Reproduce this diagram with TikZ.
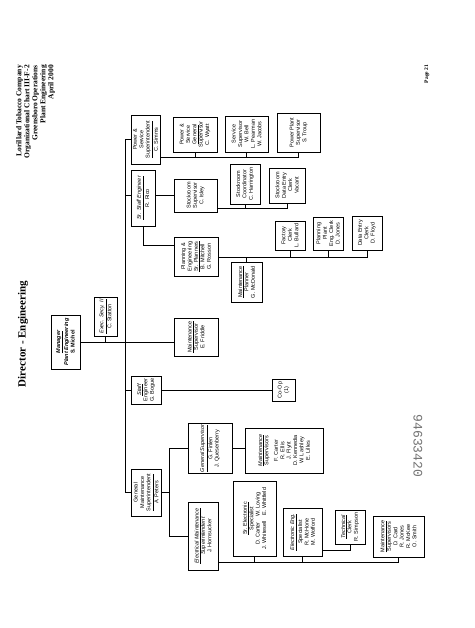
\documentclass[tikz,border=0pt]{standalone}
\usepackage{fontspec}
\setmainfont{Liberation Serif}
\setsansfont{Liberation Sans}
\setmonofont{Liberation Mono}
\usetikzlibrary{calc}

\tikzset{
  box/.style={draw, line width=0.7pt, rotate=90, align=center, inner sep=1pt,
    font=\sffamily\fontsize{5.5}{6.4}\selectfont},
  bsize/.style 2 args={minimum height=#1pt, minimum width=#2pt},
  wire/.style={line width=0.7pt},
}

\begin{document}
\begin{tikzpicture}[x=1pt, y=-1pt]
        %PAGE
        \fill[white] (0,0) rectangle (474,628);
        \useasboundingbox (0,0) rectangle (474,628);
        %HEADER
        \node[rotate=90, anchor=north east, align=right, inner sep=0pt,
          font=\bfseries\fontsize{7.5}{8}\selectfont] (hdr) at (16,65)
          {Lorillard Tobacco Company\\Organizational Chart III-F-2\\Greensboro Operations\\Plant Engineering\\April 2000};
        \node[rotate=90, font=\bfseries\fontsize{11}{13}\selectfont] (title) at (23,334) {Director - Engineering};
        \node[rotate=90, font=\bfseries\fontsize{5.5}{6}\selectfont] (pagenr) at (427,74) {Page 21};
        \node[rotate=-90, font=\ttfamily\fontsize{13}{14}\selectfont, text=black!55] (stamp) at (418,446) {94633420};
        %KOORDINAT
        \coordinate (tr) at (125,0);
        \coordinate (kGM) at (169,0);
        \coordinate (bPS) at (0,157);
        \coordinate (bST) at (0,208);
        \coordinate (kPL) at (0,245);
        \coordinate (bPL) at (0,257);
        \coordinate (kTC) at (0,550);
        \coordinate (bEL) at (0,562);
        %MANAGER
        \node[box, bsize={29}{54}] (mgr) at (65.5,342) {\textbf{\textit{\underline{Manager}}}\\\textbf{\textit{Plant Engineering}}\\\textbf{S. Michel}};
        \node[box, bsize={23}{39}] (exec) at (105.5,316.5) {\textit{\underline{Exec. Secy. II}}\\C. Statton};
        %POWER & SERVICE
        \node[box, bsize={29}{49}] (pss) at (145.5,139.5) {Power \&\\Service\\\underline{Superintendent}\\C. Simms};
        \node[box, bsize={44}{35}] (wyatt) at (195,134.5) {Power \&\\Service\\\underline{General}\\Supervisor\\C. Wyatt};
        \node[box, bsize={43}{36}] (bell) at (246.5,134) {Service\\Supervisor\\W. Bell\\L. Pearman\\W. Jacobs};
        \node[box, bsize={43}{39}] (troup) at (298.5,132.5) {Power Plant\\Supervisor\\S. Troup};
        %STAFF ENGINEER
        \node[box, bsize={24}{56}] (rico) at (143,198) {\textit{\underline{Sr. Staff Engineer}}\\R. Rico};
        \node[box, bsize={43}{33}] (isley) at (195.5,195.5) {Stockroom\\Supervisor\\C. Isley};
        \node[box, bsize={30}{40}] (harr) at (245,184) {Stockroom\\Coordinator\\C. Harrington};
        \node[box, bsize={36}{35}] (vacant) at (287,185.5) {Stockroom\\Data Entry\\Clerk\\Vacant};
        %PLANNING
        \node[box, bsize={44}{39}] (plan) at (196,256.5) {Planning \&\\Engineering\\\underline{Sr. Planners}\\B. Mitchell\\G. Rosson};
        \node[box, bsize={31}{40}] (mcd) at (246.5,282) {\underline{Maintenance}\\Planner\\G. McDonald};
        \node[box, bsize={30}{29}] (bullard) at (290,235.5) {Factory\\Clerk\\L. Bullard};
        \node[box, bsize={30}{33}] (jones) at (328,233.5) {Planning\\Plant\\Eng. Clerk\\D. Jones};
        \node[box, bsize={30}{34}] (floyd) at (367,233) {Data Entry\\Clerk\\D. Floyd};
        %MAINTENANCE
        \node[box, bsize={44}{38}] (friddle) at (196,337) {\underline{Maintenance}\\Supervisor\\E. Friddle};
        \node[box, bsize={30}{28}] (bogue) at (146,390) {\textit{\underline{Staff}}\\Engineer\\G. Bogue};
        \node[box, bsize={23}{22}] (coop) at (283.5,390) {Co-Op\\(1)};
        %GENERAL MAINTENANCE
        \node[box, bsize={30}{47}] (peters) at (146,492.5) {General\\Maintenance\\\underline{Superintendent}\\A. Peters};
        \node[box, bsize={44}{49}] (finlen) at (210,448.5) {\textit{\underline{General Supervisor}}\\G. Finlen\\J. Quesenberry};
        \node[box, bsize={78}{45}] (lilles) at (284,450.5) {\textit{\underline{Maintenance}}\\Supervisors\\[3pt]F. Carter\\R. Ellis\\J. Flynt\\D. Kennedia\\W. Lashley\\E. Lilles};
        \node[box, bsize={30}{68}] (horn) at (203,536) {\textit{\underline{Electrical Maintenance}}\\\textit{Superintendent}\\J. Hornsucker};
        \node[box, bsize={43}{75}] (carter) at (254.5,518.5) {\underline{Sr. Electronic}\\Specialist\\D. Carter\quad W. Loving\\J. Whitesell\quad E. Whitfield};
        \node[box, bsize={39}{48}] (mchone) at (302.5,532) {\textit{\underline{Electronic Eng.}}\\Specialist\\R. McHone\\M. Wofford};
        \node[box, bsize={30}{34}] (simpson) at (350,527) {\textit{\underline{Technical}}\\Clerk\\R. Simpson};
        \node[box, bsize={51}{41}] (card) at (398.5,536.5) {\underline{Maintenance}\\Supervisors\\D. Card\\R. Jones\\R. McKee\\O. Smith};
        %GARIS
        \draw[wire] (pss.north) -- (pss.north -| tr) -- (peters.north -| tr) -- (peters.north);
        \draw[wire] (mgr.south) -- (friddle.north |- mgr.south);
        \draw[wire] (exec.west) -- (exec.west |- mgr.south);
        \draw[wire] (pss.south |- bPS) -- (troup.west |- bPS) -- (troup.west);
        \draw[wire] (wyatt.west) -- (wyatt.west |- bPS);
        \draw[wire] (bell.west) -- (bell.west |- bPS);
        \draw[wire] (isley.north -| tr) -- (rico.north |- isley.north);
        \draw[wire] (rico.south |- isley.north) -- (isley.north);
        \draw[wire] (isley.south |- bST) -- (vacant.west |- bST) -- (vacant.west);
        \draw[wire] (harr.west) -- (harr.west |- bST);
        \draw[wire] (rico.west) |- (plan.north |- kPL);
        \draw[wire] (plan.south |- bPL) -- (floyd.west |- bPL) -- (floyd.west);
        \draw[wire] (mcd.east) -- (mcd.east |- bPL);
        \draw[wire] (bullard.west) -- (bullard.west |- bPL);
        \draw[wire] (jones.west) -- (jones.west |- bPL);
        \draw[wire] (bogue.north -| tr) -- (bogue.north);
        \draw[wire] (bogue.south) -- (coop.north |- bogue.south);
        \draw[wire] (peters.south) -- (peters.south -| kGM);
        \draw[wire] (finlen.north) -- (finlen.north -| kGM) -- (horn.north -| kGM) -- (horn.north);
        \draw[wire] (finlen.south) -- (lilles.north |- finlen.south);
        \draw[wire] (horn.south |- bEL) -- (card.west |- bEL) -- (card.west);
        \draw[wire] (carter.west) -- (carter.west |- bEL);
        \draw[wire] (mchone.west) -- (mchone.west |- bEL);
        \draw[wire] (simpson.west) |- (mchone.south |- kTC);
    \end{tikzpicture}
\end{document}
